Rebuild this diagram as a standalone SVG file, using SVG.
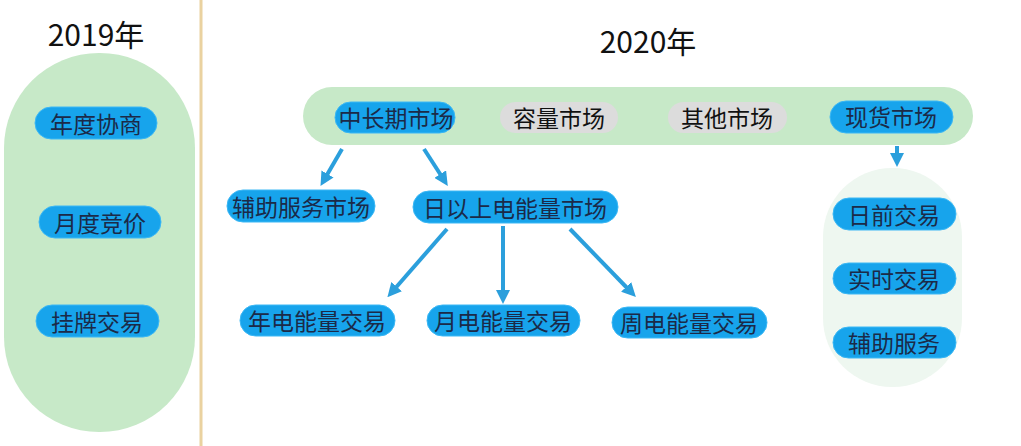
<svg xmlns="http://www.w3.org/2000/svg" width="1021" height="446" viewBox="0 0 1021 446">
<defs>
<style>
.t{font-family:"Noto Sans CJK SC","Noto Sans",sans-serif;font-size:23px;fill:#1b2a48;text-anchor:middle;dominant-baseline:central}
.yr{font-family:"Noto Sans CJK SC","Noto Sans",sans-serif;font-size:30px;fill:#111;text-anchor:middle;dominant-baseline:central}
.b{fill:#17a4ec;stroke:#3cb8f5;stroke-width:1}
.g{fill:#dcdcdc}
.c{stroke:#2b9fdc;stroke-width:4;fill:none;marker-end:url(#ah)}
</style>
<marker id="ah" viewBox="0 0 10 10" refX="5" refY="5" markerWidth="3.5" markerHeight="3.5" orient="auto" markerUnits="strokeWidth">
<path d="M0,0 L10,5 L0,10 z" fill="#2b9fdc"/>
</marker>
</defs>
<rect x="0" y="0" width="1021" height="446" fill="#ffffff"/>
<line x1="201" y1="0" x2="201" y2="446" stroke="#ead2a0" stroke-width="3"/>
<text class="yr" x="96" y="33">2019年</text>
<text class="yr" x="648" y="40">2020年</text>
<g id="pill2019"><rect x="4" y="53" width="191" height="379" rx="95" fill="#c7e9c8"/></g>
<g id="bar2020"><rect x="303" y="87" width="670" height="58" rx="29" fill="#c7e9c8"/></g>
<g id="pillSpot"><rect x="823" y="168" width="139" height="219" rx="69" fill="#eef7f0"/></g>
<g id="n1"><rect class="b" x="35" y="107" width="122" height="32" rx="16"/><text class="t" x="96" y="123">年度协商</text></g>
<g id="n2"><rect class="b" x="39" y="206" width="122" height="32" rx="16"/><text class="t" x="100" y="222">月度竞价</text></g>
<g id="n3"><rect class="b" x="36" y="305" width="123" height="32" rx="16"/><text class="t" x="97" y="321">挂牌交易</text></g>
<g id="n4"><rect class="b" x="335" y="102" width="120" height="31" rx="15.5"/><text class="t" x="396" y="117">中长期市场</text></g>
<g id="n5"><rect class="g" x="500" y="102" width="118" height="31" rx="15.5"/><text class="t" x="559" y="117" style="fill:#111">容量市场</text></g>
<g id="n6"><rect class="g" x="668" y="102" width="119" height="31" rx="15.5"/><text class="t" x="727" y="117" style="fill:#111">其他市场</text></g>
<g id="n7"><rect class="b" x="830" y="101" width="123" height="32" rx="16"/><text class="t" x="891" y="116">现货市场</text></g>
<g id="n8"><rect class="b" x="227" y="190" width="148" height="32" rx="16"/><text class="t" x="301" y="206">辅助服务市场</text></g>
<g id="n9"><rect class="b" x="413" y="191" width="205" height="32" rx="16"/><text class="t" x="515" y="207">日以上电能量市场</text></g>
<g id="n10"><rect class="b" x="240" y="305" width="155" height="31" rx="15.5"/><text class="t" x="317" y="320">年电能量交易</text></g>
<g id="n11"><rect class="b" x="427" y="305" width="153" height="31" rx="15.5"/><text class="t" x="503" y="320">月电能量交易</text></g>
<g id="n12"><rect class="b" x="612" y="307" width="155" height="31" rx="15.5"/><text class="t" x="689" y="322">周电能量交易</text></g>
<g id="n13"><rect class="b" x="833" y="198" width="123" height="32" rx="16"/><text class="t" x="894" y="214">日前交易</text></g>
<g id="n14"><rect class="b" x="833" y="263" width="123" height="31" rx="15.5"/><text class="t" x="894" y="278">实时交易</text></g>
<g id="n15"><rect class="b" x="833" y="327" width="123" height="31" rx="15.5"/><text class="t" x="894" y="342">辅助服务</text></g>
<g id="connectors">
<line class="c" x1="342" y1="149" x2="324" y2="180"/>
<line class="c" x1="424" y1="149" x2="444" y2="180"/>
<line class="c" x1="897" y1="146" x2="897" y2="160"/>
<line class="c" x1="447" y1="229" x2="392" y2="292"/>
<line class="c" x1="503" y1="226" x2="503" y2="297"/>
<line class="c" x1="570" y1="229" x2="631" y2="292"/>
</g>
</svg>
